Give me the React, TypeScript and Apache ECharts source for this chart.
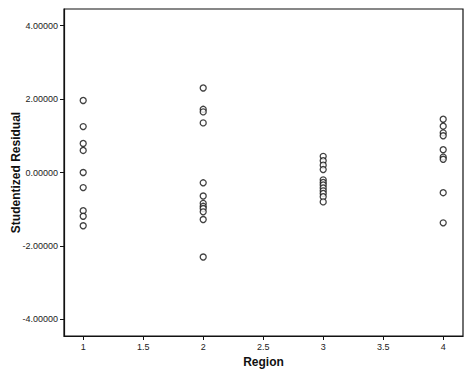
import React, { useEffect, useRef } from "react";
import * as echarts from "echarts";

const region1 = [1.96, 1.25, 0.79, 0.6, 0.0, -0.41, -1.04, -1.19, -1.45];
const region2 = [2.3, 1.72, 1.65, 1.35, -0.28, -0.64, -0.84, -0.92, -0.98, -1.07, -1.28, -2.3];
const region3 = [0.44, 0.32, 0.2, 0.08, -0.2, -0.27, -0.34, -0.42, -0.5, -0.57, -0.66, -0.8];
const region4 = [1.45, 1.26, 1.08, 1.0, 0.62, 0.42, 0.36, -0.55, -1.37];
const regions = [1, 2, 3, 4];
const residualsByRegion = [region1, region2, region3, region4];
const xTicks = [1, 1.5, 2, 2.5, 3, 3.5, 4];
const yTicks = [-4, -2, 0, 2, 4];

export default function App() {
  const ref = useRef<HTMLDivElement>(null);
  useEffect(() => {
    if (!ref.current) return;
    const chart = echarts.init(ref.current, null, { renderer: "svg" });
    const data: number[][] = [];
    regions.forEach((r, i) => residualsByRegion[i].forEach((v) => data.push([r, v])));
    const font = "'Liberation Sans', Arial, sans-serif";
    chart.setOption({
      animation: false,
      backgroundColor: "#ffffff",
      grid: {
        left: 64,
        top: 9,
        right: 11,
        bottom: 43,
        outerBoundsMode: "none",
        containLabel: false,
        show: true,
        borderColor: "#111",
        borderWidth: 1.2,
      },
      xAxis: {
        type: "value",
        min: 0.84,
        max: 4.165,
        name: "Region",
        nameLocation: "middle",
        nameGap: 20,
        nameMoveOverlap: false,
        nameTextStyle: { fontFamily: font, fontWeight: "bold", fontSize: 12, color: "#111" },
        splitLine: { show: false },
        axisLine: { show: true, onZero: false, lineStyle: { color: "#111", width: 1.2 } },
        axisTick: { show: true, length: 4, customValues: xTicks, lineStyle: { color: "#111" } },
        axisLabel: {
          customValues: xTicks,
          fontFamily: font,
          fontSize: 9,
          color: "#222",
          margin: 6,
          formatter: (v: number) => String(v),
        },
      },
      yAxis: {
        type: "value",
        min: -4.45,
        max: 4.45,
        name: "Studentized Residual",
        nameLocation: "middle",
        nameGap: 42,
        nameMoveOverlap: false,
        nameTextStyle: { fontFamily: font, fontWeight: "bold", fontSize: 12, color: "#111" },
        splitLine: { show: false },
        axisLine: { show: true, onZero: false, lineStyle: { color: "#111", width: 1.2 } },
        axisTick: { show: true, length: 4, customValues: yTicks, lineStyle: { color: "#111" } },
        axisLabel: {
          customValues: yTicks,
          fontFamily: font,
          fontSize: 9,
          color: "#222",
          margin: 6,
          formatter: (v: number) => v.toFixed(5),
        },
      },
      series: [
        {
          type: "scatter",
          data,
          symbol: "circle",
          symbolSize: 6,
          itemStyle: { color: "#ffffff", borderColor: "#111", borderWidth: 1.3 },
        },
      ],
    });
    return () => chart.dispose();
  }, []);
  return (
    <div
      ref={ref}
      style={{ position: "fixed", left: 0, top: 0, width: 474, height: 379, background: "#fff" }}
    />
  );
}
